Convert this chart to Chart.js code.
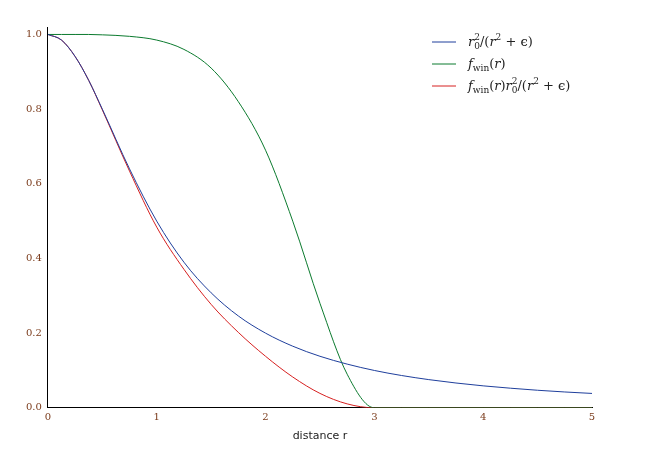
<!DOCTYPE html>
<html><head><meta charset="utf-8">
<script src="https://cdn.jsdelivr.net/npm/chart.js@4/dist/chart.umd.min.js"></script>
<style>html,body{margin:0;background:#fff}#w{width:649px;height:453px}</style>
</head><body><div id="w"><canvas id="c"></canvas></div>
<script>
const rValues=[0,0.125,0.25,0.375,0.5,0.75,1,1.25,1.5,1.75,2,2.25,2.5,2.75,3,3.25,3.5,3.75,4,4.25,4.5,4.75,5];
const blueValues=[1,0.985,0.941,0.877,0.8,0.64,0.5,0.39,0.308,0.246,0.2,0.165,0.138,0.117,0.1,0.0865,0.0755,0.0664,0.0588,0.0525,0.047,0.0424,0.0385];
const greenValues=[1,1,1,1,0.999,0.995,0.985,0.96,0.91,0.82,0.69,0.5,0.28,0.09,0,0,0,0,0,0,0,0,0];
const redValues=[1,0.985,0.941,0.877,0.798,0.634,0.484,0.371,0.277,0.202,0.138,0.0825,0.0386,0.0105,0,0,0,0,0,0,0,0,0];
const xTicks=[0,1,2,3,4,5];
const yTicks=[0,0.2,0.4,0.6,0.8,1.0];
const pts=a=>rValues.map((r,i)=>({x:r,y:a[i]}));
const serif='"DejaVu Serif", "Liberation Serif", serif';
const legendPlugin={id:'lg',afterDraw(ch){
  const c=ch.ctx;c.save();
  const items=[['#1f3f9c',[['r',1],['0',2],['2',3],['/(',0],['r',1],['2',3],[' + ϵ)',0]]],
               ['#0b7a2e',[['f',1],['win',2],['(',0],['r',1],[')',0]]],
               ['#d62020',[['f',1],['win',2],['(',0],['r',1],[')',0],['r',1],['0',2],['2',3],['/(',0],['r',1],['2',3],[' + ϵ)',0]]]];
  items.forEach((it,k)=>{const y=42+k*22;
    c.strokeStyle=it[0];c.lineWidth=1;c.beginPath();c.moveTo(432,y);c.lineTo(456,y);c.stroke();
    let x=468;c.fillStyle='#222';c.textBaseline='alphabetic';
    let prevW=0;
    it[1].forEach(([t,s])=>{
      if(s===3){x-=prevW;}
      c.font=(s===1?'italic ':'')+(s>=2?'9px ':'13px ')+serif;
      const dy=s===2?3:s===3?-6:0;
      c.fillText(t,x,y+4+dy);const w=c.measureText(t).width;x+=w;
      if(s===2){prevW=w;} else prevW=0;
    });
  });
  c.restore();}};
new Chart(document.getElementById('c'),{type:'line',
 data:{datasets:[
  {data:pts(blueValues),borderColor:'#1f3f9c'},
  {data:pts(greenValues),borderColor:'#0b7a2e'},
  {data:pts(redValues),borderColor:'#d62020'}].map(d=>Object.assign(d,{borderWidth:1,pointRadius:0,fill:false,cubicInterpolationMode:'monotone'}))},
 options:{responsive:true,maintainAspectRatio:false,animation:false,
  layout:{padding:{left:20,right:57,top:27,bottom:6}},
  plugins:{legend:{display:false},tooltip:{enabled:false}},
  scales:{
   x:{type:'linear',min:0,max:5,afterBuildTicks:a=>{a.ticks=xTicks.map(v=>({value:v}))},
     grid:{display:false,drawTicks:false},border:{color:'#000'},
     ticks:{color:'#7a3a1a',font:{family:serif,size:10},padding:4},
     title:{display:true,text:'distance r',color:'#222',font:{family:'"DejaVu Sans", sans-serif',size:11},padding:{top:2}}},
   y:{min:0,max:1.02,afterBuildTicks:a=>{a.ticks=yTicks.map(v=>({value:v}))},
     grid:{display:false,drawTicks:false},border:{color:'#000'},
     ticks:{color:'#7a3a1a',font:{family:serif,size:10},padding:6,callback:v=>v.toFixed(1)}}}},
 plugins:[legendPlugin]});
</script></body></html>
